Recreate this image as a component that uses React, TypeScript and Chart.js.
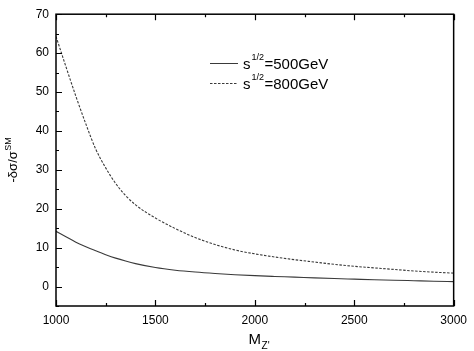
import React, { useEffect, useRef } from "react";
import { Chart, registerables } from "chart.js";

Chart.register(...registerables);

const massValues = [1000, 1050, 1100, 1150, 1200, 1250, 1300, 1350, 1400, 1500, 1600, 1700, 1800, 1900, 2000, 2100, 2200, 2300, 2400, 2500, 2600, 2700, 2800, 2900, 3000];
const series500 = [14.2, 12.8, 11.4, 10.25, 9.2, 8.2, 7.3, 6.55, 5.9, 4.88, 4.2, 3.72, 3.35, 3.05, 2.8, 2.6, 2.42, 2.22, 2.05, 1.9, 1.75, 1.62, 1.5, 1.38, 1.27];
const series800 = [64.3, 56.5, 48.9, 41.8, 35.3, 30.5, 26.5, 23.4, 21.0, 17.6, 14.9, 12.6, 10.8, 9.4, 8.4, 7.6, 6.9, 6.3, 5.7, 5.2, 4.8, 4.4, 4.0, 3.7, 3.45];
const xTicks = [1000, 1500, 2000, 2500, 3000];
const xMinorTicks = [1250, 1750, 2250, 2750];
const yTicks = [0, 10, 20, 30, 40, 50, 60, 70];
const yMinorTicks = [-5, 5, 15, 25, 35, 45, 55, 65];
const legendLabels = ["500GeV", "800GeV"];

const FONT = "'Liberation Sans', Arial, sans-serif";
const LINE_COLOR = "#3a3a3a";

const framePlugin = {
  id: "frame",
  afterDraw(chart: any) {
    const { ctx, chartArea, scales } = chart;
    const { left, right, top, bottom } = chartArea;
    const xs = scales.x;
    const ys = scales.y;
    ctx.save();
    ctx.strokeStyle = "#000";
    ctx.lineWidth = 1.5;
    ctx.strokeRect(left, top, right - left, bottom - top);
    ctx.lineWidth = 1.2;
    ctx.beginPath();
    for (const v of yTicks) {
      const y = Math.round(ys.getPixelForValue(v)) + 0.5;
      ctx.moveTo(left, y);
      ctx.lineTo(left + 6, y);
    }
    for (const v of yMinorTicks) {
      const y = Math.round(ys.getPixelForValue(v)) + 0.5;
      ctx.moveTo(left, y);
      ctx.lineTo(left + 3, y);
    }
    for (const v of xTicks) {
      const x = Math.round(xs.getPixelForValue(v)) + 0.5;
      ctx.moveTo(x, bottom);
      ctx.lineTo(x, bottom - 6);
      ctx.moveTo(x, top);
      ctx.lineTo(x, top + 6);
    }
    for (const v of xMinorTicks) {
      const x = Math.round(xs.getPixelForValue(v)) + 0.5;
      ctx.moveTo(x, bottom);
      ctx.lineTo(x, bottom - 3);
      ctx.moveTo(x, top);
      ctx.lineTo(x, top + 3);
    }
    ctx.stroke();

    ctx.fillStyle = "#000";
    ctx.textBaseline = "alphabetic";
    ctx.font = `15px ${FONT}`;
    const cx = (left + right) / 2 + 4;
    const mW = ctx.measureText("M").width;
    ctx.font = `10px ${FONT}`;
    const zW = ctx.measureText("Z'").width;
    const startX = cx - (mW + zW) / 2;
    ctx.font = `15px ${FONT}`;
    ctx.textAlign = "left";
    ctx.fillText("M", startX, 344);
    ctx.font = `10px ${FONT}`;
    ctx.fillText("Z'", startX + mW + 0.5, 349);

    ctx.save();
    ctx.translate(17, (top + bottom) / 2);
    ctx.rotate(-Math.PI / 2);
    ctx.font = `13px ${FONT}`;
    const base = "-δσ/σ";
    const bW = ctx.measureText(base).width;
    ctx.font = `9px ${FONT}`;
    const sW = ctx.measureText("SM").width;
    const sx = -(bW + sW) / 2;
    ctx.font = `13px ${FONT}`;
    ctx.fillText(base, sx, 0);
    ctx.font = `9px ${FONT}`;
    ctx.fillText("SM", sx + bW + 0.5, -6);
    ctx.restore();

    const rows = [
      { y: 63.5, dash: [] as number[], label: legendLabels[0] },
      { y: 83.5, dash: [2.5, 1.5], label: legendLabels[1] },
    ];
    for (const r of rows) {
      ctx.strokeStyle = LINE_COLOR;
      ctx.lineWidth = 1;
      ctx.setLineDash(r.dash);
      ctx.beginPath();
      ctx.moveTo(210, r.y);
      ctx.lineTo(238, r.y);
      ctx.stroke();
      ctx.setLineDash([]);
      ctx.fillStyle = "#000";
      ctx.textBaseline = "middle";
      ctx.font = `15px ${FONT}`;
      ctx.fillText("s", 243, r.y + 1);
      const s1 = ctx.measureText("s").width;
      ctx.font = `9px ${FONT}`;
      ctx.fillText("1/2", 243 + s1 + 1, r.y - 6);
      const s2 = ctx.measureText("1/2").width;
      ctx.font = `15px ${FONT}`;
      ctx.fillText("=" + r.label, 243 + s1 + 1 + s2 + 0.5, r.y + 1);
    }
    ctx.restore();
  },
};

export default function App() {
  const canvasRef = useRef<HTMLCanvasElement | null>(null);
  useEffect(() => {
    if (!canvasRef.current) return;
    const chart = new Chart(canvasRef.current, {
      type: "line",
      data: {
        datasets: [
          {
            label: "s^1/2=500GeV",
            data: massValues.map((m, i) => ({ x: m, y: series500[i] })),
            borderColor: LINE_COLOR,
            borderWidth: 1.1,
            pointRadius: 0,
            cubicInterpolationMode: "monotone",
            fill: false,
          },
          {
            label: "s^1/2=800GeV",
            data: massValues.map((m, i) => ({ x: m, y: series800[i] })),
            borderColor: LINE_COLOR,
            borderWidth: 1.1,
            borderDash: [2.5, 1.5],
            pointRadius: 0,
            cubicInterpolationMode: "monotone",
            fill: false,
          },
        ],
      },
      options: {
        animation: false,
        responsive: true,
        maintainAspectRatio: false,
        layout: { padding: { top: 5, right: 12, left: 0, bottom: 0 } },
        plugins: { legend: { display: false }, tooltip: { enabled: false } },
        scales: {
          x: {
            type: "linear",
            min: 1000,
            max: 3000,
            afterBuildTicks: (s: any) => {
              s.ticks = xTicks.map((v) => ({ value: v }));
            },
            afterFit: (s: any) => {
              s.height = 45;
            },
            grid: { display: true, color: "transparent", drawOnChartArea: false, drawTicks: false },
            border: { display: false },
            ticks: {
              padding: 7,
              maxRotation: 0,
              autoSkip: false,
              color: "#000",
              font: { family: FONT, size: 12 },
              callback: (v: any) => String(v),
            },
          },
          y: {
            type: "linear",
            min: -5,
            max: 70,
            afterBuildTicks: (s: any) => {
              s.ticks = yTicks.map((v) => ({ value: v }));
            },
            afterFit: (s: any) => {
              s.width = 56;
            },
            grid: { display: true, color: "transparent", drawOnChartArea: false, drawTicks: false },
            border: { display: false },
            ticks: {
              padding: 7,
              autoSkip: false,
              color: "#000",
              font: { family: FONT, size: 12 },
              callback: (v: any) => String(v),
            },
          },
        },
      },
      plugins: [framePlugin],
    });
    return () => chart.destroy();
  }, []);
  return (
    <div style={{ position: "absolute", left: 0, top: 0, width: 474, height: 351, background: "#fff" }}>
      <canvas ref={canvasRef} />
    </div>
  );
}
